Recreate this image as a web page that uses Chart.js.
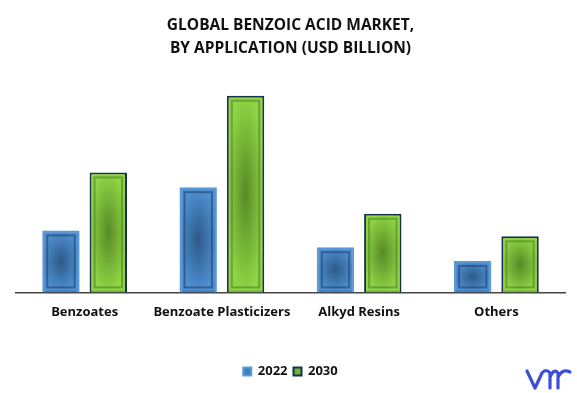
<!DOCTYPE html>
<html>
<head>
<meta charset="utf-8">
<script src="https://cdn.jsdelivr.net/npm/chart.js@4.4.0/dist/chart.umd.min.js"></script>
<style>
  html, body { margin: 0; padding: 0; background: #fff; }
  #wrap { width: 577px; height: 393px; }
</style>
</head>
<body>
<div id="wrap"><canvas id="marketChart" width="577" height="393"></canvas></div>
<script>
const categories = ['Benzoates', 'Benzoate Plasticizers', 'Alkyd Resins', 'Others'];
const values2022 = [0.63, 1.07, 0.46, 0.32];
const values2030 = [1.22, 2.0, 0.80, 0.57];
const seriesLabels = ['2022', '2030'];

// colours for the radial fill: [edge, centre, inner frame]
const fills = {
    '2022': ['#4f8fd2', '#2c5a88', 'rgba(30,60,100,0.55)'],
    '2030': ['#8fd444', '#578a26', 'rgba(80,130,40,0.6)']
};

// paint the gradient and the inner frame over each bar
const barPaint = {
    id: 'barPaint',
    afterDatasetDraw(chart, args) {
        const ctx = chart.ctx;
        const ds = chart.data.datasets[args.index];
        const f = fills[ds.label];
        args.meta.data.forEach(function (bar) {
            const p = bar.getProps(['x', 'y', 'base', 'width'], true);
            const left = p.x - p.width / 2;
            const top = Math.min(p.y, p.base);
            const h = Math.abs(p.base - p.y);
            const bw = ds.borderWidth;
            const cx = p.x, cy = top + h / 2;
            const r = Math.max(p.width, h) / 2;
            ctx.save();
            ctx.beginPath();
            ctx.rect(left + bw, top + bw, p.width - 2 * bw, h - 2 * bw);
            ctx.clip();
            ctx.translate(cx, cy);
            ctx.scale(p.width / (2 * r), h / (2 * r));
            const g = ctx.createRadialGradient(0, 0, 0, 0, 0, r);
            g.addColorStop(0, f[1]);
            g.addColorStop(1, f[0]);
            ctx.fillStyle = g;
            ctx.fillRect(-r * 2, -r * 2, r * 4, r * 4);
            ctx.restore();
            ctx.save();
            ctx.strokeStyle = f[2];
            ctx.lineWidth = 2;
            ctx.strokeRect(left + 5, top + 5, p.width - 10, h - 10);
            ctx.restore();
        });
    }
};

const logo = {
    id: 'logo',
    afterDraw(chart) {
        const ctx = chart.ctx;
        ctx.save();
        ctx.strokeStyle = '#3a4fd6';
        ctx.lineWidth = 3.2;
        ctx.lineCap = 'round';
        ctx.lineJoin = 'round';
        ctx.beginPath();
        ctx.moveTo(527, 371);
        ctx.lineTo(535, 388);
        ctx.lineTo(542, 373);
        ctx.quadraticCurveTo(546, 368, 550, 373);
        ctx.lineTo(550, 388);
        ctx.moveTo(550, 377);
        ctx.quadraticCurveTo(554, 368, 558, 373);
        ctx.lineTo(558, 388);
        ctx.moveTo(558, 377);
        ctx.quadraticCurveTo(563, 368, 570, 372);
        ctx.stroke();
        ctx.restore();
    }
};

new Chart(document.getElementById('marketChart'), {
    type: 'bar',
    data: {
        labels: categories,
        datasets: [{
            label: seriesLabels[0],
            data: values2022,
            backgroundColor: '#3f7fc0',
            borderColor: '#5a9ad8',
            borderWidth: 2,
            barPercentage: 0.79,
            categoryPercentage: 0.69
        }, {
            label: seriesLabels[1],
            data: values2030,
            backgroundColor: '#6fb536',
            borderColor: '#18324e',
            borderWidth: 2,
            barPercentage: 0.79,
            categoryPercentage: 0.69
        }]
    },
    options: {
        responsive: false,
        animation: false,
        layout: { padding: { left: 16, right: 12, top: 4, bottom: 5 } },
        plugins: {
            title: {
                display: true,
                text: ['GLOBAL BENZOIC ACID MARKET,', 'BY APPLICATION (USD BILLION)'],
                color: '#111',
                font: { family: 'Open Sans', size: 15.5, weight: 'bold', lineHeight: 1.48 },
                padding: { top: 10, bottom: 27 }
            },
            legend: {
                position: 'bottom',
                labels: {
                    color: '#111',
                    boxWidth: 8,
                    boxHeight: 8,
                    font: { family: 'Open Sans', size: 13, weight: 'bold' },
                    padding: 6
                }
            },
            tooltip: { enabled: false }
        },
        scales: {
            x: {
                grid: { display: false, drawTicks: false },
                border: { display: true, color: '#444', width: 1.5 },
                ticks: {
                    color: '#111',
                    padding: 12,
                    maxRotation: 0,
                    autoSkip: false,
                    font: { family: 'Open Sans', size: 13, weight: 'bold' }
                },
                afterFit: function (scale) {
                    scale.height += 27;
                }
            },
            y: {
                display: false,
                min: 0,
                max: 2.09
            }
        }
    },
    plugins: [barPaint, logo]
});
</script>
</body>
</html>
